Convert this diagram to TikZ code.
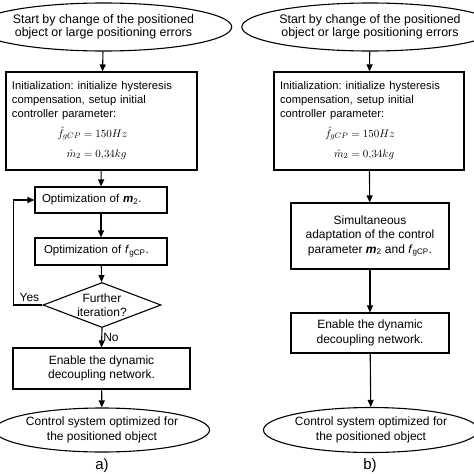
\documentclass[tikz,border=0pt]{standalone}
\usepackage{amsmath}
\usepackage{fontspec}
\setmainfont{Liberation Sans}
\usetikzlibrary{
  shapes.geometric,
  arrows.meta,
}
\tikzset{
  terminal/.style={draw,ellipse,line width=1.1pt,minimum width=204pt,minimum height=48pt,inner sep=0pt,align=center},
  stepbox/.style={draw,rectangle,line width=1.1pt,inner sep=0pt,align=center},
  decision/.style={draw,diamond,line width=1.1pt,aspect=2.6,inner sep=0pt,align=center,minimum width=118pt,minimum height=45pt},
  flow/.style={line width=1.1pt,-{Triangle[length=7pt,width=6pt]}},
}
\frenchspacing
\newcommand{\initpar}{%
  {\raggedright\fontsize{11.2}{14}\selectfont Initialization: initialize hysteresis\\compensation, setup initial\\controller parameter:\par}
  \vspace{6pt}
  {\centering\fontsize{11}{13}\selectfont\hspace*{-18pt}$\begin{aligned}\hat{f}_{gCP} &= 150Hz\\[4pt] \hat{m}_2 &= 0{,}34kg\end{aligned}$\par}}
\begin{document}
\begin{tikzpicture}[x=1pt,y=-1pt,font=\fontsize{12}{14.5}\selectfont]
\useasboundingbox (0,0) rectangle (474,474);
\node[terminal,minimum width=206pt,minimum height=48pt,font=\fontsize{12.4}{13.5}\selectfont] (starta) at (103.5,27) {Start by change of the positioned\\object or large positioning errors};
\node[stepbox,minimum width=191pt,minimum height=98pt,text width=179pt,inner xsep=6pt] (inita) at (101.5,121) {\initpar};
\node[stepbox,minimum width=132pt,minimum height=26pt,text width=124pt,inner xsep=4pt,align=left,font=\fontsize{11.5}{14}\selectfont] (optm) at (101,200) {\hspace*{3pt}Optimization of \textbf{\textit{m}}\textsubscript{2}.};
\node[stepbox,minimum width=132pt,minimum height=27pt,text width=124pt,inner xsep=4pt,align=left,font=\fontsize{11.5}{14}\selectfont] (optf) at (101,251.5) {\hspace*{5pt}Optimization of \textit{f}\textsubscript{gCP}.};
\node[decision] (iter) at (102,305) {Further\\iteration?};
\node[stepbox,minimum width=177pt,minimum height=41pt] (enablea) at (101.5,368.5) {Enable the dynamic\\decoupling network.};
\node[terminal,minimum height=44pt] (enda) at (102,430) {Control system optimized for\\the positioned object};
\node (capa) at (102,466) {\fontsize{15}{16}\selectfont a)};
\draw[flow] (starta) -- (inita);
\draw[flow] (inita) -- (optm);
\draw[flow] (optm) -- (optf);
\draw[flow] (optf) -- (iter);
\draw[flow] (iter.west) -- node[above,pos=0.45] {Yes} ++(-29,0) |- (optm.west);
\draw[flow] (iter.south) -- node[right,inner sep=1pt] {No} (enablea.north);
\draw[flow] (enablea) -- (enda);
\node[terminal,minimum width=206pt,minimum height=48pt,font=\fontsize{12.4}{13.5}\selectfont] (startb) at (370,27) {Start by change of the positioned\\object or large positioning errors};
\node[stepbox,minimum width=190pt,minimum height=98pt,text width=178pt,inner xsep=6pt] (initb) at (369,121) {\initpar};
\node[stepbox,minimum width=158pt,minimum height=66pt] (adapt) at (370,236) {Simultaneous\\adaptation of the control\\parameter \textbf{\textit{m}}\textsubscript{2} and \textit{f}\textsubscript{gCP}.};
\node[stepbox,minimum width=158pt,minimum height=40pt] (enableb) at (370,333) {Enable the dynamic\\decoupling network.};
\node[terminal,minimum height=45pt] (endb) at (371,430) {Control system optimized for\\the positioned object};
\node (capb) at (370,466) {\fontsize{15}{16}\selectfont b)};
\draw[flow] (startb) -- (initb);
\draw[flow] (initb) -- (adapt);
\draw[flow] (adapt) -- (enableb);
\draw[flow] (enableb) -- (endb);
\end{tikzpicture}
\end{document}
